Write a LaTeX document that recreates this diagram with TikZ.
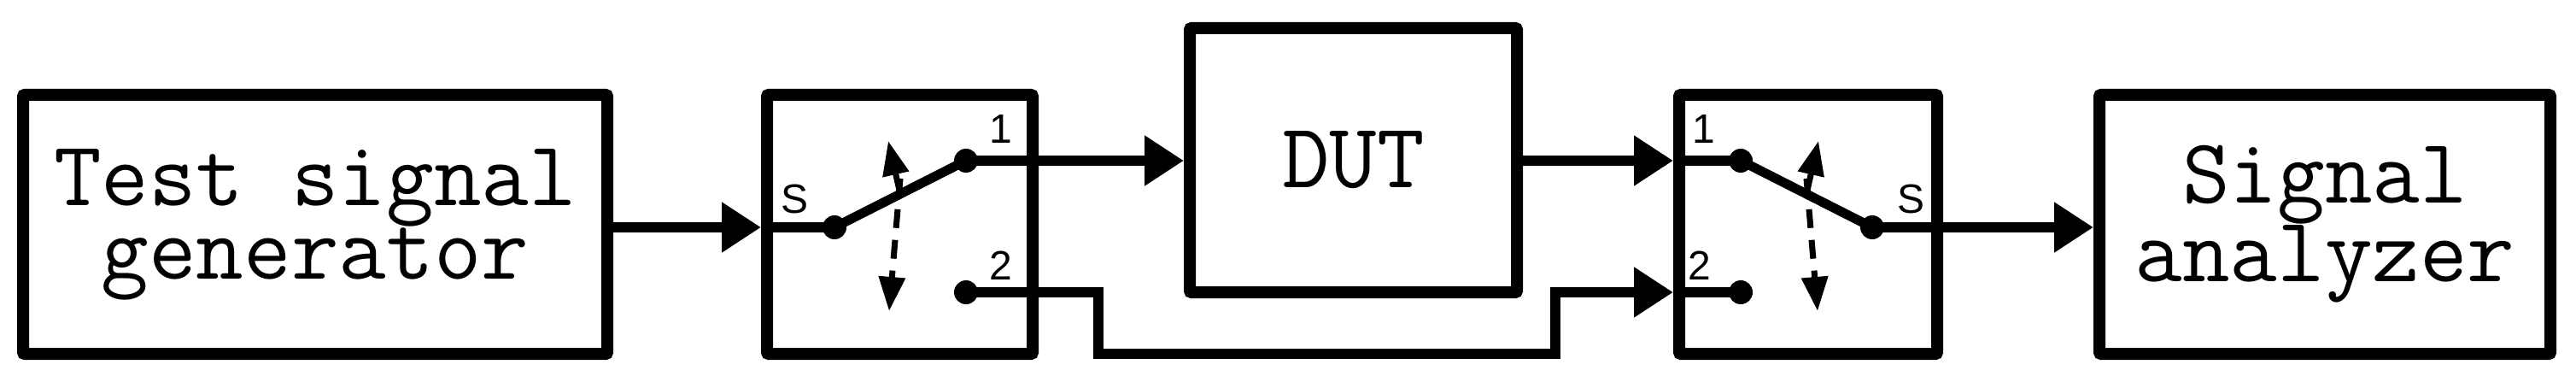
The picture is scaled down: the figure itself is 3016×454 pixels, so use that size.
\documentclass[tikz,border=0pt]{standalone}
\usepackage{fontspec}
\setmainfont{Liberation Sans}
\usetikzlibrary{arrows.meta}
\begin{document}
\begin{tikzpicture}[x=1pt,y=-1pt,
  blk/.style={draw,line width=14pt,rounded corners=2pt,inner sep=0pt,font=\ttfamily\addfontfeature{FakeBold=5}\fontsize{108}{86}\selectfont,align=center},
  wire/.style={line width=12pt},
  arr/.style={wire,-{Triangle[length=46pt,width=56pt]}},
  lever/.style={line width=11pt},
  dot/.style={circle,fill,inner sep=0pt,minimum size=28pt},
  lbl/.style={font=\fontsize{48}{48}\selectfont,inner sep=0pt},
  mv/.style={line width=7pt,-{Triangle[length=40pt,width=30pt]}}]
\useasboundingbox (0,0) rectangle (3016,454);
\node[blk,minimum width=684pt,minimum height=303pt] (gen) at (369,262.5) {Test signal\\generator};
\node[blk,minimum width=311pt,minimum height=303pt] (sw1) at (1053.5,262.5) {};
\node[blk,minimum width=383pt,minimum height=309pt] (dut) at (1584.5,187.5) {DUT};
\node[blk,minimum width=302pt,minimum height=303pt] (sw2) at (2117,262.5) {};
\node[blk,minimum width=528pt,minimum height=303pt] (ana) at (2722,262.5) {Signal\\analyzer};
% switch 1
\node[dot] (s1s) at (977,266) {};
\node[dot] (s1a) at (1131,188) {};
\node[dot] (s1b) at (1131,342) {};
\node[lbl] (l1s) at (930,233) {S};
\node[lbl] (l1a) at (1172,151) {1};
\node[lbl] (l1b) at (1172,311) {2};
\draw[lever] (s1s.center) -- (s1a.center);
\coordinate (m1) at (1054,227);
\coordinate (m1u) at (1040,165);
\coordinate (m1d) at (1041,364);
\draw[mv] (m1) -- (m1u);
\draw[mv,dash pattern=on 22pt off 14pt] ([yshift=18pt]m1) -- (m1d);
% switch 2
\node[dot] (s2a) at (2038,188) {};
\node[dot] (s2b) at (2038,342) {};
\node[dot] (s2s) at (2192,266) {};
\node[lbl] (l2a) at (1995,151) {1};
\node[lbl] (l2b) at (1990,311) {2};
\node[lbl] (l2s) at (2237,233) {S};
\draw[lever] (s2a.center) -- (s2s.center);
\coordinate (m2) at (2115,227);
\coordinate (m2u) at (2129,165);
\coordinate (m2d) at (2128,364);
\draw[mv] (m2) -- (m2u);
\draw[mv,dash pattern=on 22pt off 14pt] ([yshift=18pt]m2) -- (m2d);
% wires
\draw[arr] (gen.east|-s1s) -- (sw1.west|-s1s);
\draw[wire] (sw1.west|-s1s) -- (s1s.center);
\draw[arr] (s1a.center) -- (dut.west|-s1a);
\draw[arr] (dut.east|-s2a) -- (sw2.west|-s2a);
\draw[wire] (sw2.west|-s2a) -- (s2a.center);
\draw[wire] (s1b.center) -- (1286,342) -- (1286,414) -- (1821,414) -- (1821,342) -- (1850,342);
\draw[arr] (1815,342) -- (sw2.west|-s2b);
\draw[wire] (sw2.west|-s2b) -- (s2b.center);
\draw[wire] (s2s.center) -- (sw2.east|-s2s);
\draw[arr] (sw2.east|-s2s) -- (ana.west|-s2s);
\end{tikzpicture}
\end{document}
